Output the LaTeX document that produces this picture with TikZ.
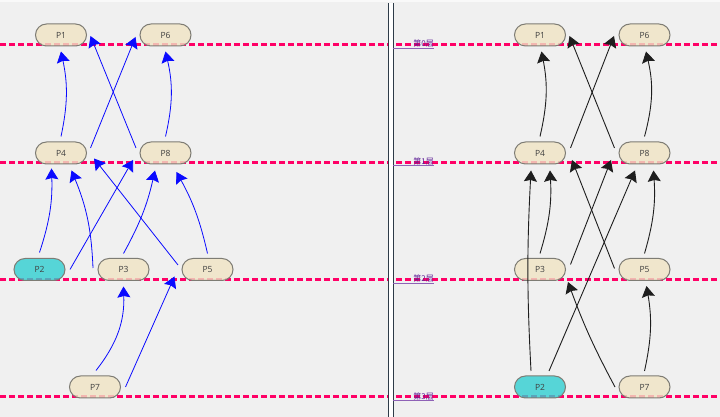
\documentclass[tikz,border=0pt]{standalone}
\usepackage{fontspec}
\setmainfont{Open Sans}
\newfontfamily\cjkfont{Noto Sans CJK SC}
\usetikzlibrary{arrows.meta, shapes.misc}
\definecolor{panelGray}{HTML}{F0F0F0}
\definecolor{nodeFill}{HTML}{F1E4C3}
\definecolor{nodeCyan}{HTML}{30CFD1}
\definecolor{nodeBorder}{HTML}{7E7C74}
\definecolor{textGray}{HTML}{404040}
\definecolor{layerRed}{HTML}{FF0066}
\definecolor{layerPurple}{HTML}{5E1E96}
\definecolor{edgeBlue}{HTML}{0A0AFF}
\definecolor{edgeDark}{HTML}{1E1E1E}
\definecolor{splitDark}{HTML}{2E3B48}

\begin{document}
\begin{tikzpicture}[x=1pt, y=1pt,
    proc/.style={rectangle, rounded corners=11pt, minimum width=51pt,
                 minimum height=22pt, draw=nodeBorder, line width=1pt,
                 fill=nodeFill, fill opacity=0.8, text opacity=1, inner sep=0pt,
                 font=\fontsize{8.5}{10}\selectfont\color{textGray}},
    layerline/.style={layerRed, line width=2.3pt, dash pattern=on 6pt off 3pt},
    laylabel/.style={anchor=south east, text width=40.5pt, align=right,
                     inner xsep=0pt, inner ysep=0.6pt,
                     font=\cjkfont\fontsize{8}{9}\selectfont\color{layerPurple}},
    bluearr/.style={-{Stealth[length=11pt, width=13pt, inset=1.5pt]},
                    line width=0.8pt, edgeBlue},
    darkarr/.style={-{Stealth[length=11pt, width=13pt, inset=1.5pt]},
                    line width=0.9pt, edgeDark},
  ]
    \useasboundingbox (0,0) rectangle (720,417);
    \fill[panelGray] (0,0) rectangle (720,415);
    \fill[white!60!panelGray] (0,415) rectangle (720,417);

    \draw[layerline] (0,372.5) -- (720,372.5);
    \draw[layerline] (0,254.5) -- (720,254.5);
    \draw[layerline] (0,137.5) -- (720,137.5);
    \draw[layerline] (0,20.5) -- (720,20.5);

    \fill[white] (388,0) rectangle (393,414);
    \draw[splitDark, line width=1pt] (388,0) -- (388,414);
    \draw[splitDark, line width=1pt] (393,0) -- (393,414);

    \node[laylabel] (lay0) at (434,368.7) {第0层};
    \node[laylabel] (lay1) at (434,251.3) {第1层};
    \node[laylabel] (lay2) at (434,133.7) {第2层};
    \node[laylabel] (lay3) at (434,16.3)  {第3层};
    \draw[layerPurple!70, line width=0.8pt] (lay0.south west) -- (lay0.south east);
    \draw[layerPurple!70, line width=0.8pt] (lay1.south west) -- (lay1.south east);
    \draw[layerPurple!70, line width=0.8pt] (lay2.south west) -- (lay2.south east);
    \draw[layerPurple!70, line width=0.8pt] (lay3.south west) -- (lay3.south east);

    \node[proc]                (lp1) at (61,382)     {P1};
    \node[proc]                (lp6) at (165.5,382)  {P6};
    \node[proc]                (lp4) at (61,264)     {P4};
    \node[proc]                (lp8) at (165.5,264)  {P8};
    \node[proc, fill=nodeCyan] (lp2) at (39.5,147.5) {P2};
    \node[proc]                (lp3) at (123.5,147.5) {P3};
    \node[proc]                (lp5) at (207.5,147.5) {P5};
    \node[proc]                (lp7) at (95,30)      {P7};

    \node[proc]                (rp1) at (540,382)    {P1};
    \node[proc]                (rp6) at (644.5,382)  {P6};
    \node[proc]                (rp4) at (540,264)    {P4};
    \node[proc]                (rp8) at (644.5,264)  {P8};
    \node[proc]                (rp3) at (540,147.5)  {P3};
    \node[proc]                (rp5) at (644.5,147.5) {P5};
    \node[proc, fill=nodeCyan] (rp2) at (540,30)     {P2};
    \node[proc]                (rp7) at (644.5,30)   {P7};

    \draw[bluearr] ([yshift=5pt]lp4.north) to[bend right=12] ([yshift=-5pt]lp1.south);
    \draw[bluearr] ([yshift=5pt]lp8.north) to[bend right=13] ([yshift=-5pt]lp6.south);
    \draw[bluearr] ([xshift=3.5pt,yshift=5pt]lp4.east) -- ([xshift=-4pt,yshift=-2pt]lp6.west);
    \draw[bluearr] ([xshift=-3.5pt,yshift=5pt]lp8.west) -- ([xshift=3.5pt,yshift=-1pt]lp1.east);
    \draw[bluearr] ([yshift=5.5pt]lp2.north) to[bend right=10] ([xshift=-9.5pt,yshift=-4pt]lp4.south);
    \draw[bluearr] ([xshift=-4.5pt,yshift=1.5pt]lp3.west) to[bend right=10] ([xshift=10.5pt,yshift=-6pt]lp4.south);
    \draw[bluearr] ([xshift=4.5pt]lp2.east) -- ([xshift=-6.5pt,yshift=-7pt]lp8.west);
    \draw[bluearr] ([xshift=-3.5pt,yshift=4.5pt]lp5.west) -- ([xshift=7pt,yshift=-5.5pt]lp4.east);
    \draw[bluearr] ([yshift=4.5pt]lp3.north) to[bend right=8] ([xshift=-10.5pt,yshift=-6pt]lp8.south);
    \draw[bluearr] ([yshift=4.5pt]lp5.north) to[bend right=8] ([xshift=11pt,yshift=-7.5pt]lp8.south);
    \draw[bluearr] ([xshift=1pt,yshift=5pt]lp7.north) to[bend right=20] ([yshift=-5.5pt]lp3.south);
    \draw[bluearr] ([xshift=4.5pt]lp7.east) -- ([xshift=-7pt,yshift=-7pt]lp5.west);

    \draw[darkarr] ([yshift=5pt]rp4.north) to[bend right=12] ([xshift=1.5pt,yshift=-5pt]rp1.south);
    \draw[darkarr] ([yshift=5pt]rp8.north) to[bend right=14] ([xshift=1.5pt,yshift=-5pt]rp6.south);
    \draw[darkarr] ([xshift=4.5pt,yshift=5pt]rp4.east) -- ([xshift=-4.5pt,yshift=-1pt]rp6.west);
    \draw[darkarr] ([xshift=-4pt,yshift=5pt]rp8.west) -- ([xshift=3.5pt,yshift=-1pt]rp1.east);
    \draw[darkarr] ([xshift=-9pt,yshift=4.5pt]rp2.north) to[bend left=3] ([xshift=-9pt,yshift=-6pt]rp4.south);
    \draw[darkarr] ([yshift=4.5pt]rp3.north) to[bend right=10] ([xshift=10pt,yshift=-6pt]rp4.south);
    \draw[darkarr] ([xshift=4.5pt,yshift=5pt]rp3.east) -- ([xshift=-7.5pt,yshift=-7pt]rp8.west);
    \draw[darkarr] ([xshift=-4pt,yshift=1pt]rp5.west) -- ([xshift=6pt,yshift=-7pt]rp4.east);
    \draw[darkarr] ([xshift=9pt,yshift=4.5pt]rp2.north) -- ([xshift=-9.5pt,yshift=-6pt]rp8.south);
    \draw[darkarr] ([yshift=4.5pt]rp5.north) to[bend right=10] ([xshift=9pt,yshift=-6pt]rp8.south);
    \draw[darkarr] ([xshift=-3.5pt]rp7.west) to[bend left=4] ([xshift=2pt,yshift=-1pt]rp3.south east);
    \draw[darkarr] ([yshift=4.5pt]rp7.north) to[bend right=11] ([xshift=2pt,yshift=-5pt]rp5.south);
  \end{tikzpicture}
\end{document}
